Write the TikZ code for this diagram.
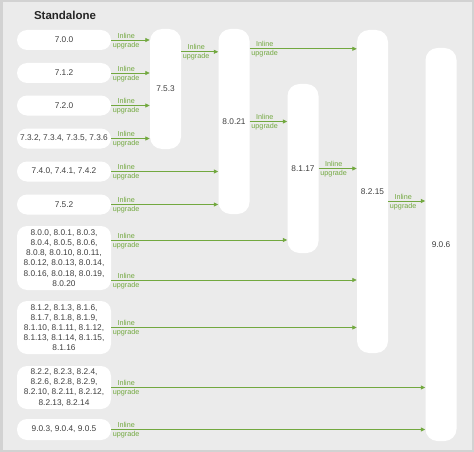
\documentclass[tikz,border=0pt]{standalone}
\usepackage{fontspec}
\setmainfont{Liberation Sans}
\usetikzlibrary{arrows.meta}
\definecolor{upgreen}{HTML}{72A83F}
\definecolor{vertext}{HTML}{3F3F3F}
\definecolor{panel}{HTML}{EBEBEB}
\definecolor{panelline}{HTML}{D2D2D2}

\begin{document}
\begin{tikzpicture}[x=1pt,y=-1pt,
	ver/.style={fill=white,rounded corners=10pt,text=vertext,font=\fontsize{8.3}{10.1}\selectfont,minimum width=94pt,minimum height=20pt,inner sep=2pt,align=center},
	col/.style={fill=white,rounded corners=12pt,text=vertext,font=\fontsize{8.3}{10.1}\selectfont,minimum width=31pt,inner sep=0pt},
	upg/.style={draw=upgreen,line width=0.8pt,-{Triangle[length=4.5pt,width=4pt]}},
	lbl/.style={pos=0,xshift=15pt,text=upgreen,font=\fontsize{7.2}{8}\selectfont,inner sep=1.5pt}]

	\fill[panelline] (0,0) rectangle (474,452);
	\fill[panel] (3,2) rectangle (472,450);
	\node[font=\bfseries\fontsize{11.5}{13}\selectfont,text=black!85] (title) at (65,15) {Standalone};

	\node[ver] (v700) at (64,40) {7.0.0};
	\node[ver] (v712) at (64,73) {7.1.2};
	\node[ver] (v720) at (64,105.5) {7.2.0};
	\node[ver] (v73x) at (64,138.5) {7.3.2, 7.3.4, 7.3.5, 7.3.6};
	\node[ver] (v74x) at (64,171.5) {7.4.0, 7.4.1, 7.4.2};
	\node[ver] (v752) at (64,204.5) {7.5.2};
	\node[ver,minimum height=64pt] (v80x) at (64,258) {8.0.0, 8.0.1, 8.0.3,\\8.0.4, 8.0.5, 8.0.6,\\8.0.8, 8.0.10, 8.0.11,\\8.0.12, 8.0.13, 8.0.14,\\8.0.16, 8.0.18, 8.0.19,\\8.0.20};
	\node[ver,minimum height=53pt] (v81x) at (64,327.5) {8.1.2, 8.1.3, 8.1.6,\\8.1.7, 8.1.8, 8.1.9,\\8.1.10, 8.1.11, 8.1.12,\\8.1.13, 8.1.14, 8.1.15,\\8.1.16};
	\node[ver,minimum height=43pt] (v82x) at (64,387.5) {8.2.2, 8.2.3, 8.2.4,\\8.2.6, 8.2.8, 8.2.9,\\8.2.10, 8.2.11, 8.2.12,\\8.2.13, 8.2.14};
	\node[ver,minimum height=21pt] (v90x) at (64,429.5) {9.0.3, 9.0.4, 9.0.5};

	\node[col,minimum height=120pt] (v753) at (165.5,89) {7.5.3};
	\node[col,minimum height=185pt] (v8021) at (234,121.5) {8.0.21};
	\node[col,minimum height=169pt] (v8117) at (303,168.5) {8.1.17};
	\node[col,minimum height=323pt] (v8215) at (372.5,191.5) {8.2.15};
	\node[col,minimum height=393pt] (v906) at (441,244.5) {9.0.6};

	\draw[upg] (v700.east) -- (v700.east -| v753.west) node[lbl,above] {Inline} node[lbl,below] {upgrade};
	\draw[upg] (v712.east) -- (v712.east -| v753.west) node[lbl,above] {Inline} node[lbl,below] {upgrade};
	\draw[upg] (v720.east) -- (v720.east -| v753.west) node[lbl,above] {Inline} node[lbl,below] {upgrade};
	\draw[upg] (v73x.east) -- (v73x.east -| v753.west) node[lbl,above] {Inline} node[lbl,below] {upgrade};
	\draw[upg] (v74x.east) -- (v74x.east -| v8021.west) node[lbl,above] {Inline} node[lbl,below] {upgrade};
	\draw[upg] (v752.east) -- (v752.east -| v8021.west) node[lbl,above] {Inline} node[lbl,below] {upgrade};
	\draw[upg] ([yshift=18pt]v80x.east) -- ([yshift=18pt]v80x.east -| v8117.west) node[lbl,above] {Inline} node[lbl,below] {upgrade};
	\draw[upg] ([yshift=-22pt]v80x.east) -- ([yshift=-22pt]v80x.east -| v8215.west) node[lbl,above] {Inline} node[lbl,below] {upgrade};
	\draw[upg] (v81x.east) -- (v81x.east -| v8215.west) node[lbl,above] {Inline} node[lbl,below] {upgrade};
	\draw[upg] (v82x.east) -- (v82x.east -| v906.west) node[lbl,above] {Inline} node[lbl,below] {upgrade};
	\draw[upg] (v90x.east) -- (v90x.east -| v906.west) node[lbl,above] {Inline} node[lbl,below] {upgrade};

	\draw[upg] ([yshift=-23pt]v753.north east) -- ([yshift=-23pt]v753.north east -| v8021.west) node[lbl,above] {Inline} node[lbl,below] {upgrade};
	\draw[upg] ([yshift=-20pt]v8021.north east) -- ([yshift=-20pt]v8021.north east -| v8215.west) node[lbl,above] {Inline} node[lbl,below] {upgrade};
	\draw[upg] (v8021.east) -- (v8021.east -| v8117.west) node[lbl,above] {Inline} node[lbl,below] {upgrade};
	\draw[upg] (v8117.east) -- (v8117.east -| v8215.west) node[lbl,above] {Inline} node[lbl,below] {upgrade};
	\draw[upg] ([yshift=-9.5pt]v8215.east) -- ([yshift=-9.5pt]v8215.east -| v906.west) node[lbl,above] {Inline} node[lbl,below] {upgrade};
\end{tikzpicture}
\end{document}
